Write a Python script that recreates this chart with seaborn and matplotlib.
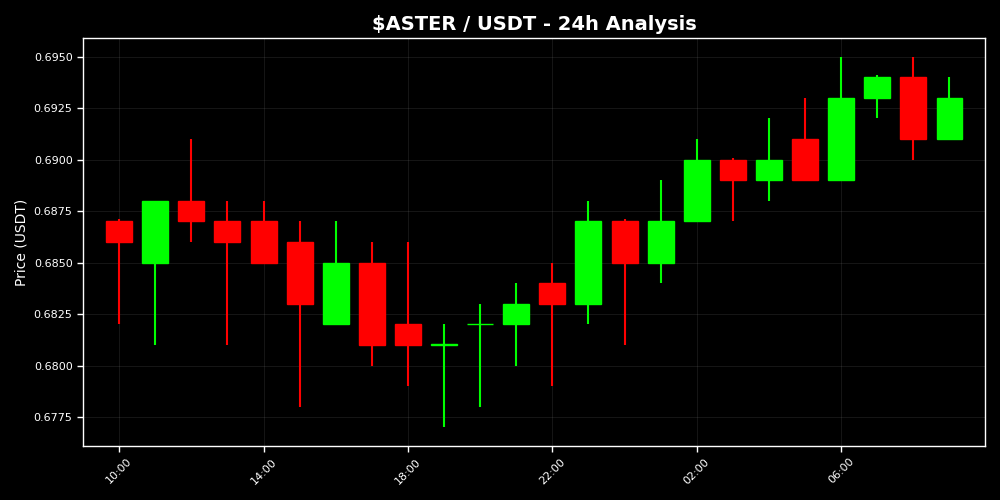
import matplotlib
matplotlib.use("Agg")
import matplotlib.pyplot as plt
import matplotlib.dates as mdates
import seaborn as sns
import pandas as pd
import numpy as np

# hourly candles, 10:00 -> 09:00 next day
times = pd.date_range("2025-01-01 10:00", periods=24, freq="h")
opens = [0.6870, 0.6850, 0.6880, 0.6870, 0.6870, 0.6860, 0.6820, 0.6850,
         0.6820, 0.6810, 0.6820, 0.6820, 0.6840, 0.6830, 0.6870, 0.6850,
         0.6870, 0.6900, 0.6890, 0.6910, 0.6890, 0.6930, 0.6940, 0.6910]
closes = [0.6860, 0.6880, 0.6870, 0.6860, 0.6850, 0.6830, 0.6850, 0.6810,
          0.6810, 0.6810, 0.6820, 0.6830, 0.6830, 0.6870, 0.6850, 0.6870,
          0.6900, 0.6890, 0.6900, 0.6890, 0.6930, 0.6940, 0.6910, 0.6930]
highs = [0.6871, 0.6880, 0.6910, 0.6880, 0.6880, 0.6870, 0.6870, 0.6860,
         0.6860, 0.6820, 0.6830, 0.6840, 0.6850, 0.6880, 0.6871, 0.6890,
         0.6910, 0.6901, 0.6920, 0.6930, 0.6950, 0.6941, 0.6950, 0.6940]
lows = [0.6820, 0.6810, 0.6860, 0.6810, 0.6850, 0.6780, 0.6820, 0.6800,
        0.6790, 0.6770, 0.6780, 0.6800, 0.6790, 0.6820, 0.6810, 0.6840,
        0.6870, 0.6870, 0.6880, 0.6890, 0.6890, 0.6920, 0.6900, 0.6910]

df = pd.DataFrame({"time": times, "open": opens, "close": closes,
                   "high": highs, "low": lows})
df["up"] = df["close"] >= df["open"]
df["color"] = np.where(df["up"], "#00ff00", "#ff0000")

sns.set_theme(style="dark", rc={
    "figure.facecolor": "black",
    "axes.facecolor": "black",
    "axes.edgecolor": "white",
    "axes.labelcolor": "white",
    "xtick.color": "white",
    "ytick.color": "white",
    "text.color": "white",
})
plt.rcParams["font.family"] = ["DejaVu Sans"]

fig, ax = plt.subplots(figsize=(10, 5), dpi=100)
fig.subplots_adjust(left=0.083, right=0.985, top=0.924, bottom=0.108)

width = pd.Timedelta(hours=0.72)
bottoms = df[["open", "close"]].min(axis=1)
heights = (df["close"] - df["open"]).abs().clip(lower=0.00003)

# wicks
ax.vlines(df["time"], df["low"], df["high"], colors=df["color"], linewidth=1.5, zorder=2)
# bodies
ax.bar(df["time"], heights, width=width, bottom=bottoms, color=df["color"],
       edgecolor=df["color"], linewidth=1, zorder=3)

ax.set_xlim(pd.Timestamp("2025-01-01 09:00"), pd.Timestamp("2025-01-02 09:59"))
ax.margins(y=0.05)
ax.xaxis.set_major_locator(mdates.HourLocator(byhour=[2, 6, 10, 14, 18, 22]))
ax.xaxis.set_major_formatter(mdates.DateFormatter("%H:%M"))
ax.yaxis.set_major_formatter(matplotlib.ticker.FormatStrFormatter("%.4f"))
plt.setp(ax.get_xticklabels(), rotation=45, fontsize=8)
plt.setp(ax.get_yticklabels(), fontsize=8)
ax.tick_params(axis="both", length=4, width=1, bottom=True, left=True)

ax.grid(True, color="gray", alpha=0.2, linewidth=0.6)
ax.set_axisbelow(True)
for s in ax.spines.values():
    s.set_color("white")
    s.set_linewidth(1)

ax.set_title("$ASTER / USDT - 24h Analysis", fontsize=14, fontweight="bold", color="white")
ax.set_ylabel("Price (USDT)", fontsize=10)

fig.savefig("out.png", facecolor="black")
